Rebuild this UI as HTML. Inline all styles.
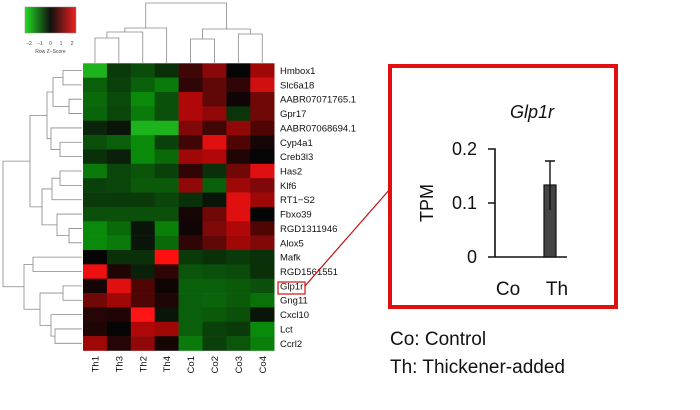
<!DOCTYPE html>
<html><head><meta charset="utf-8"><style>
html,body{margin:0;padding:0;background:#fff;width:700px;height:410px;overflow:hidden}
svg{display:block;font-family:"Liberation Sans",Arial,sans-serif}
</style></head><body>
<svg id="s" width="700" height="410" viewBox="0 0 700 410" xmlns="http://www.w3.org/2000/svg">
<defs><linearGradient id="g" x1="0" x2="1"><stop offset="0" stop-color="#22dd22"/><stop offset="0.5" stop-color="#111"/><stop offset="1" stop-color="#ee2020"/></linearGradient></defs>
<rect x="25" y="7" width="51" height="26" fill="url(#g)" stroke="#888" stroke-width="0.5"/>
<g font-size="5" fill="#444" text-anchor="middle">
<text x="29" y="45">−2</text><text x="40" y="45">−1</text><text x="50.5" y="45">0</text><text x="61" y="45">1</text><text x="72" y="45">2</text>
<text x="50.5" y="53">Row Z−Score</text></g>
<g id="hm"></g>
<g id="dd" stroke="#888" stroke-width="0.8" fill="none"></g>
<g id="lb" font-size="9.5" fill="#111"></g>
<rect x="278" y="282" width="27" height="12" fill="none" stroke="#d01010" stroke-width="1.2"/>
<line x1="305" y1="286" x2="390" y2="189" stroke="#c01010" stroke-width="1.2"/>
<rect x="390" y="66" width="226" height="241" fill="#fff" stroke="#e01010" stroke-width="4"/>
<text x="532" y="118" font-size="18" font-style="italic" text-anchor="middle" fill="#111">Glp1r</text>
<g stroke="#111" stroke-width="1.6" fill="none">
<path d="M488 149H495V257M488 203H495M488 257H567"/>
</g>
<rect x="544" y="185" width="12" height="72" fill="#444" stroke="#111" stroke-width="1.2"/>
<path d="M550 161V210M545 161H555" stroke="#111" stroke-width="1.4"/>
<g font-size="18" fill="#111" text-anchor="end">
<text x="477" y="155">0.2</text><text x="477" y="209">0.1</text><text x="477" y="263">0</text></g>
<text transform="translate(433,203) rotate(-90)" font-size="18" text-anchor="middle" fill="#111">TPM</text>
<text x="508" y="295" font-size="19" text-anchor="middle" fill="#111">Co</text>
<text x="557" y="295" font-size="19" text-anchor="middle" fill="#111">Th</text>
<text x="390" y="345" font-size="19" fill="#111">Co: Control</text>
<text x="390" y="373" font-size="19" fill="#111">Th: Thickener-added</text>
</svg>
<script>
var rows=[
["Hmbox1",["#1db31d","#0a3a0a","#0a4d0a","#0a300a","#400505","#8a0808","#050505","#a00808"]],
["Slc6a18",["#0a600a","#0a400a","#0a600a","#0a7a0a","#300505","#600808","#300505","#d01010"]],
["AABR07071765.1",["#0a6a0a","#0a4a0a","#0a8a0a","#0a500a","#b00808","#600808","#100505","#700808"]],
["Gpr17",["#0a650a","#0a450a","#0a7a0a","#0a500a","#b00808","#900808","#0a350a","#700808"]],
["AABR07068694.1",["#0a250a","#0a150a","#1db31d","#1db31d","#800808","#400505","#900808","#500505"]],
["Cyp4a1",["#0a500a","#0a600a","#0a8a0a","#0a400a","#400505","#e01010","#500505","#150505"]],
["Creb3l3",["#0a300a","#0a200a","#0a8a0a","#0a6a0a","#a00808","#b00808","#200505","#050505"]],
["Has2",["#0a7a0a","#0a450a","#0a550a","#0a400a","#300505","#0a300a","#700808","#e01010"]],
["Klf6",["#0a400a","#0a450a","#0a5a0a","#0a5a0a","#900808","#0a600a","#a00808","#800808"]],
["RT1\u2212S2",["#0a3a0a","#0a3a0a","#0a3a0a","#0a450a","#0a300a","#0a150a","#e01010","#a00808"]],
["Fbxo39",["#0a500a","#0a500a","#0a500a","#0a500a","#150505","#700808","#e01010","#050505"]],
["RGD1311946",["#0a8a0a","#0a6a0a","#0a150a","#0a800a","#100505","#800808","#b00808","#500505"]],
["Alox5",["#0a8a0a","#0a7a0a","#0a150a","#0a6a0a","#300505","#600808","#a00808","#800808"]],
["Mafk",["#050505","#0a300a","#0a300a","#ff1010","#0a3a0a","#0a300a","#0a3a0a","#0a300a"]],
["RGD1561551",["#ee1010","#200505","#0a200a","#300505","#0a550a","#0a500a","#0a4a0a","#0a300a"]],
["Glp1r",["#150505","#e01010","#500505","#100505","#0a600a","#0a600a","#0a5a0a","#0a500a"]],
["Gng11",["#700808","#a00808","#500505","#200505","#0a600a","#0a650a","#0a5a0a","#0a700a"]],
["Cxcl10",["#250505","#200505","#ff1515","#0a150a","#0a600a","#0a5a0a","#0a500a","#0a150a"]],
["Lct",["#200505","#050505","#b00808","#a00808","#0a600a","#0a400a","#0a3a0a","#0a8a0a"]],
["Ccrl2",["#a00808","#250505","#900808","#150505","#0a7a0a","#0a400a","#0a550a","#0a800a"]]];
var NS="http://www.w3.org/2000/svg",X0=83,Y0=63.3,CW=23.9,RH=14.36;
function el(p,t,a,txt){var e=document.createElementNS(NS,t);for(var k in a)e.setAttribute(k,a[k]);if(txt)e.textContent=txt;document.getElementById(p).appendChild(e);}
rows.forEach(function(r,i){r[1].forEach(function(c,j){el("hm","rect",{x:X0+j*CW,y:Y0+i*RH,width:CW+0.3,height:RH+0.3,fill:c});});
el("lb","text",{x:280,y:Y0+i*RH+RH/2+3.5},r[0]);});
["Th1","Th3","Th2","Th4","Co1","Co2","Co3","Co4"].forEach(function(n,j){el("lb","text",{transform:"translate("+(X0+j*CW+CW/2+3.5)+",356) rotate(-90)","text-anchor":"end"},n);});
// top dendrogram
var cx=function(j){return X0+j*CW+CW/2;};
function tj(a,b,h,ha,hb){return "M"+a+" "+ha+"V"+h+"H"+b+"V"+hb;}
var P="";
var t1=(cx(0)+cx(1))/2,t2=(t1+cx(2))/2,t3=(t2+cx(3))/2,c1=(cx(4)+cx(5))/2,c2=(cx(6)+cx(7))/2,c3=(c1+c2)/2;
P+=tj(cx(0),cx(1),38,63,63)+tj(t1,cx(2),32,38,63)+tj(t2,cx(3),28,32,63)+tj(cx(4),cx(5),39,63,63)+tj(cx(6),cx(7),34,63,63)+tj(c1,c2,29,39,34)+tj(t3,c3,3,28,29);
// left dendrogram
var ry=function(i){return Y0+i*RH+RH/2;};var L=82;
function lj(a,b,x,xa,xb){return "M"+xa+" "+a+"H"+x+"V"+b+"H"+xb;}
var a01=(ry(0)+ry(1))/2,a23=(ry(2)+ry(3))/2,a03=(a01+a23)/2,a56=(ry(5)+ry(6))/2,a46=(ry(4)+a56)/2,A=(a03+a46)/2;
P+=lj(ry(0),ry(1),63,L,L)+lj(ry(2),ry(3),69,L,L)+lj(a01,a23,53,63,69)+lj(ry(5),ry(6),60,L,L)+lj(ry(4),a56,51,L,60)+lj(a03,a46,47,53,51);
var b78=(ry(7)+ry(8))/2,b79=(b78+ry(9))/2,b1112=(ry(11)+ry(12))/2,b1012=(ry(10)+b1112)/2,B=(b79+b1012)/2;
P+=lj(ry(7),ry(8),60,L,L)+lj(b78,ry(9),52,60,L)+lj(ry(11),ry(12),69,L,L)+lj(ry(10),b1112,57,L,69)+lj(b79,b1012,42,52,57);
var AB=(A+B)/2;P+=lj(A,B,30,47,42);
var m=(ry(13)+ry(14))/2,g=(ry(15)+ry(16))/2,lc=(ry(18)+ry(19))/2,cl=(ry(17)+lc)/2,gc=(g+cl)/2,C=(m+gc)/2;
P+=lj(ry(13),ry(14),33,L,L)+lj(ry(15),ry(16),63,L,L)+lj(ry(18),ry(19),55,L,L)+lj(ry(17),lc,51,L,55)+lj(g,cl,40,63,51)+lj(m,gc,24,33,40)+lj(AB,C,3,30,24);
el("dd","path",{d:P});
</script>
</body></html>
